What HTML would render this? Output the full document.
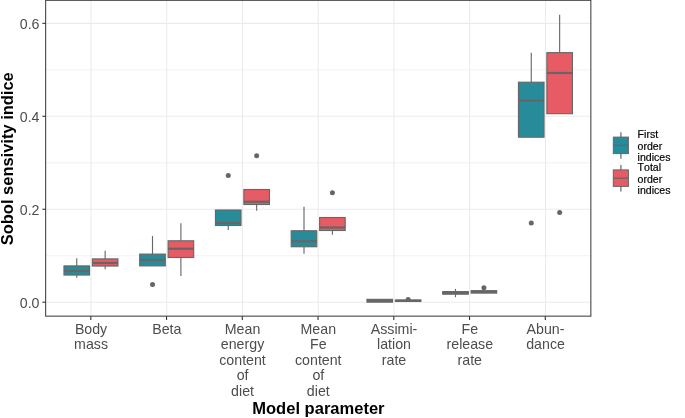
<!DOCTYPE html>
<html lang="en"><head><meta charset="utf-8"><title>Sobol sensitivity indices</title>
<style>html,body{margin:0;padding:0;background:#fff}body{width:685px;height:418px;overflow:hidden}svg{display:block}text{font-kerning:none}</style>
</head><body>
<svg width="685" height="418" viewBox="0 0 685 418">
<rect x="0" y="0" width="685" height="418" fill="#fff"/>
<g stroke="#EBEBEB" fill="none">
<line x1="45.65" x2="590.85" y1="255.72" y2="255.72" stroke-width="0.65"/>
<line x1="45.65" x2="590.85" y1="162.78" y2="162.78" stroke-width="0.65"/>
<line x1="45.65" x2="590.85" y1="69.82" y2="69.82" stroke-width="0.65"/>
<line x1="45.65" x2="590.85" y1="302.20" y2="302.20" stroke-width="1.05"/>
<line x1="45.65" x2="590.85" y1="209.25" y2="209.25" stroke-width="1.05"/>
<line x1="45.65" x2="590.85" y1="116.30" y2="116.30" stroke-width="1.05"/>
<line x1="45.65" x2="590.85" y1="23.35" y2="23.35" stroke-width="1.05"/>
<line x1="90.95" x2="90.95" y1="0.3" y2="316.15" stroke-width="1.05"/>
<line x1="166.70" x2="166.70" y1="0.3" y2="316.15" stroke-width="1.05"/>
<line x1="242.45" x2="242.45" y1="0.3" y2="316.15" stroke-width="1.05"/>
<line x1="318.20" x2="318.20" y1="0.3" y2="316.15" stroke-width="1.05"/>
<line x1="393.95" x2="393.95" y1="0.3" y2="316.15" stroke-width="1.05"/>
<line x1="469.70" x2="469.70" y1="0.3" y2="316.15" stroke-width="1.05"/>
<line x1="545.45" x2="545.45" y1="0.3" y2="316.15" stroke-width="1.05"/>
</g>
<g stroke="#666666" stroke-width="1.12" fill="none">
<line x1="76.75" x2="76.75" y1="258.20" y2="265.90"/>
<line x1="76.75" x2="76.75" y1="275.05" y2="277.80"/>
<rect x="63.96" y="265.90" width="25.57" height="9.15" fill="#278B9A"/>
<line x1="63.96" x2="89.53" y1="271.00" y2="271.00" stroke-width="2.2"/>
<line x1="105.15" x2="105.15" y1="250.80" y2="258.90"/>
<line x1="105.15" x2="105.15" y1="266.05" y2="269.20"/>
<rect x="92.37" y="258.90" width="25.57" height="7.15" fill="#E75B64"/>
<line x1="92.37" x2="117.94" y1="263.00" y2="263.00" stroke-width="2.2"/>
<circle cx="152.50" cy="284.40" r="2.5" fill="#666666" stroke="none"/>
<line x1="152.50" x2="152.50" y1="236.05" y2="254.10"/>
<rect x="139.71" y="254.10" width="25.57" height="11.80" fill="#278B9A"/>
<line x1="139.71" x2="165.28" y1="260.00" y2="260.00" stroke-width="2.2"/>
<line x1="180.90" x2="180.90" y1="223.30" y2="240.80"/>
<line x1="180.90" x2="180.90" y1="257.50" y2="275.95"/>
<rect x="168.12" y="240.80" width="25.57" height="16.70" fill="#E75B64"/>
<line x1="168.12" x2="193.69" y1="248.75" y2="248.75" stroke-width="2.2"/>
<circle cx="228.25" cy="175.50" r="2.5" fill="#666666" stroke="none"/>
<line x1="228.25" x2="228.25" y1="225.50" y2="229.95"/>
<rect x="215.46" y="210.00" width="25.57" height="15.50" fill="#278B9A"/>
<line x1="215.46" x2="241.03" y1="223.00" y2="223.00" stroke-width="2.2"/>
<circle cx="256.65" cy="155.75" r="2.5" fill="#666666" stroke="none"/>
<line x1="256.65" x2="256.65" y1="204.50" y2="210.70"/>
<rect x="243.87" y="189.50" width="25.57" height="15.00" fill="#E75B64"/>
<line x1="243.87" x2="269.44" y1="201.75" y2="201.75" stroke-width="2.2"/>
<line x1="304.00" x2="304.00" y1="206.80" y2="230.75"/>
<line x1="304.00" x2="304.00" y1="246.75" y2="253.70"/>
<rect x="291.21" y="230.75" width="25.57" height="16.00" fill="#278B9A"/>
<line x1="291.21" x2="316.78" y1="241.20" y2="241.20" stroke-width="2.2"/>
<circle cx="332.40" cy="192.75" r="2.5" fill="#666666" stroke="none"/>
<line x1="332.40" x2="332.40" y1="230.50" y2="234.70"/>
<rect x="319.62" y="217.50" width="25.57" height="13.00" fill="#E75B64"/>
<line x1="319.62" x2="345.19" y1="227.50" y2="227.50" stroke-width="2.2"/>
<rect x="366.96" y="299.35" width="25.57" height="2.80" fill="#666666"/>
<line x1="366.96" x2="392.53" y1="300.75" y2="300.75" stroke-width="2.2"/>
<circle cx="408.15" cy="299.60" r="2.5" fill="#666666" stroke="none"/>
<rect x="395.37" y="300.05" width="25.57" height="1.35" fill="#666666"/>
<line x1="395.37" x2="420.94" y1="300.70" y2="300.70" stroke-width="2.2"/>
<line x1="455.50" x2="455.50" y1="288.85" y2="291.60"/>
<line x1="455.50" x2="455.50" y1="294.20" y2="297.20"/>
<rect x="442.71" y="291.60" width="25.57" height="2.60" fill="#666666"/>
<line x1="442.71" x2="468.28" y1="292.90" y2="292.90" stroke-width="2.2"/>
<circle cx="483.90" cy="287.70" r="2.5" fill="#666666" stroke="none"/>
<rect x="471.12" y="290.70" width="25.57" height="2.40" fill="#666666"/>
<line x1="471.12" x2="496.69" y1="291.90" y2="291.90" stroke-width="2.2"/>
<circle cx="531.25" cy="223.00" r="2.5" fill="#666666" stroke="none"/>
<line x1="531.25" x2="531.25" y1="52.80" y2="82.20"/>
<rect x="518.46" y="82.20" width="25.57" height="55.00" fill="#278B9A"/>
<line x1="518.46" x2="544.03" y1="100.70" y2="100.70" stroke-width="2.2"/>
<circle cx="559.65" cy="212.60" r="2.5" fill="#666666" stroke="none"/>
<line x1="559.65" x2="559.65" y1="14.80" y2="52.65"/>
<rect x="546.87" y="52.65" width="25.57" height="61.05" fill="#E75B64"/>
<line x1="546.87" x2="572.44" y1="73.00" y2="73.00" stroke-width="2.2"/>
</g>
<rect x="45.65" y="0.3" width="545.20" height="315.85" fill="none" stroke="#3d3d3d" stroke-width="1.05"/>
<g stroke="#333333" stroke-width="1.1">
<line x1="42.4" x2="45.65" y1="302.20" y2="302.20"/>
<line x1="42.4" x2="45.65" y1="209.25" y2="209.25"/>
<line x1="42.4" x2="45.65" y1="116.30" y2="116.30"/>
<line x1="42.4" x2="45.65" y1="23.35" y2="23.35"/>
<line x1="90.80" x2="90.80" y1="316.15" y2="319.9"/>
<line x1="166.55" x2="166.55" y1="316.15" y2="319.9"/>
<line x1="242.30" x2="242.30" y1="316.15" y2="319.9"/>
<line x1="318.05" x2="318.05" y1="316.15" y2="319.9"/>
<line x1="393.80" x2="393.80" y1="316.15" y2="319.9"/>
<line x1="469.55" x2="469.55" y1="316.15" y2="319.9"/>
<line x1="545.30" x2="545.30" y1="316.15" y2="319.9"/>
</g>
<g font-family="Liberation Sans, Arial, Helvetica, sans-serif" font-size="14.2" fill="#4D4D4D">
<text x="39.5" y="307.60" text-anchor="end">0.0</text>
<text x="39.5" y="214.65" text-anchor="end">0.2</text>
<text x="39.5" y="121.70" text-anchor="end">0.4</text>
<text x="39.5" y="28.75" text-anchor="end">0.6</text>
<text x="91.05" y="333.75" text-anchor="middle">Body</text>
<text x="91.05" y="349.25" text-anchor="middle">mass</text>
<text x="166.80" y="333.75" text-anchor="middle">Beta</text>
<text x="242.55" y="333.75" text-anchor="middle">Mean</text>
<text x="242.55" y="349.25" text-anchor="middle">energy</text>
<text x="242.55" y="364.75" text-anchor="middle">content</text>
<text x="242.55" y="380.25" text-anchor="middle">of</text>
<text x="242.55" y="395.75" text-anchor="middle">diet</text>
<text x="318.30" y="333.75" text-anchor="middle">Mean</text>
<text x="318.30" y="349.25" text-anchor="middle">Fe</text>
<text x="318.30" y="364.75" text-anchor="middle">content</text>
<text x="318.30" y="380.25" text-anchor="middle">of</text>
<text x="318.30" y="395.75" text-anchor="middle">diet</text>
<text x="394.05" y="333.75" text-anchor="middle">Assimi-</text>
<text x="394.05" y="349.25" text-anchor="middle">lation</text>
<text x="394.05" y="364.75" text-anchor="middle">rate</text>
<text x="469.80" y="333.75" text-anchor="middle">Fe</text>
<text x="469.80" y="349.25" text-anchor="middle">release</text>
<text x="469.80" y="364.75" text-anchor="middle">rate</text>
<text x="545.55" y="333.75" text-anchor="middle">Abun-</text>
<text x="545.55" y="349.25" text-anchor="middle">dance</text>
</g>
<g font-family="Liberation Sans, Arial, Helvetica, sans-serif" font-size="16.55" font-weight="bold" fill="#000">
<text x="318.4" y="413.9" text-anchor="middle">Model parameter</text>
<text transform="translate(12.75,158.75) rotate(-90)" font-size="16.48" text-anchor="middle">Sobol sensivity indice</text>
</g>
<g stroke="#666666" stroke-width="1" fill="none">
<line x1="620.9" x2="620.9" y1="132.15" y2="158.65" stroke-width="1.2"/>
<rect x="613.3" y="137.10" width="15.1" height="16.5" fill="#278B9A"/>
<line x1="613.3" x2="628.4" y1="145.35" y2="145.35" stroke-width="1.3"/>
</g>
<g stroke="#666666" stroke-width="1" fill="none">
<line x1="620.9" x2="620.9" y1="164.95" y2="191.45" stroke-width="1.2"/>
<rect x="613.3" y="169.90" width="15.1" height="16.5" fill="#E75B64"/>
<line x1="613.3" x2="628.4" y1="178.15" y2="178.15" stroke-width="1.3"/>
</g>
<g font-family="Liberation Sans, Arial, Helvetica, sans-serif" font-size="10.55" fill="#000" stroke="#000" stroke-width="0.18">
<text x="637.6" y="138.25">First</text>
<text x="637.6" y="149.70">order</text>
<text x="637.6" y="161.15">indices</text>
<text x="637.6" y="171.05">Total</text>
<text x="637.6" y="182.50">order</text>
<text x="637.6" y="193.95">indices</text>
</g>
</svg>
</body></html>
